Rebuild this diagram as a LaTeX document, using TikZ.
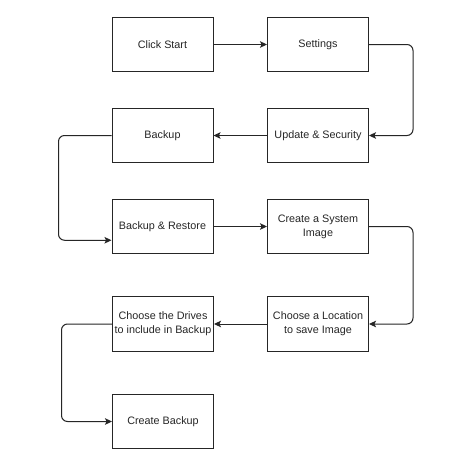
\documentclass[tikz,border=0pt]{standalone}
\usepackage{fontspec}
\setmainfont{Liberation Sans}
\usetikzlibrary{arrows.meta,calc}
\begin{document}
\begin{tikzpicture}[x=1pt,y=-1pt,
  stepbox/.style={draw=black!85, line width=1pt, fill=white, minimum width=101pt, minimum height=54.5pt,
    inner sep=1pt, align=center, text=black!85, font=\fontsize{10.8}{14}\selectfont},
  conn/.style={draw=black!85, line width=1pt, rounded corners=6pt,
    -{Stealth[length=7pt,width=6.5pt,inset=1.5pt]}}]
\useasboundingbox (0,0) rectangle (474,474);
\fill[white] (0,0) rectangle (474,474);
\node[stepbox] (cs)  at (162.5,44.5) {Click Start};
\node[stepbox] (set) at (318,44.5) {Settings};
\node[stepbox] (bk)  at (162.5,135.5) {Backup};
\node[stepbox] (us)  at (318,135.5) {Update \& Security};
\node[stepbox] (br)  at (162.5,226.5) {Backup \& Restore};
\node[stepbox] (csi) at (318,226.5) {Create a System\\Image};
\node[stepbox] (ctd) at (163,324) {Choose the Drives\\to include in Backup};
\node[stepbox] (cal) at (318,324) {Choose a Location\\to save Image};
\node[stepbox] (cb)  at (163,421.5) {Create Backup};
\coordinate (rx) at (413,0);
\coordinate (lx1) at (58.5,0);
\coordinate (lx2) at (61.5,0);
\coordinate (brin) at ($(br.south west)+(0,-14)$);
\draw[conn] (cs) -- (set);
\draw[conn] (set.east) -- (set.east -| rx) |- (us.east);
\draw[conn] (us) -- (bk);
\draw[conn] (bk.west) -- (bk.west -| lx1) |- (brin);
\draw[conn] (br) -- (csi);
\draw[conn] (csi.east) -- (csi.east -| rx) |- (cal.east);
\draw[conn] (cal) -- (ctd);
\draw[conn] (ctd.west) -- (ctd.west -| lx2) |- (cb.west);
\end{tikzpicture}
\end{document}
